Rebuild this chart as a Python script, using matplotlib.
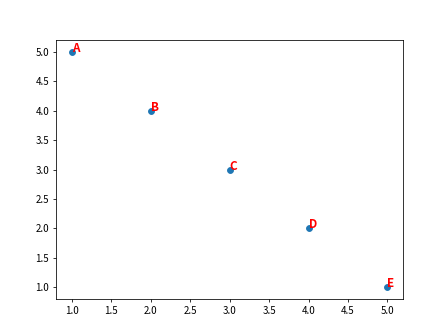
import matplotlib.pyplot as plt

plt.rcParams['font.family'] = ['Noto Sans CJK SC', 'DejaVu Sans']

x = [1, 2, 3, 4, 5]
y = [5, 4, 3, 2, 1]
labels = ['A', 'B', 'C', 'D', 'E']

fig, ax = plt.subplots(figsize=(6.4, 4.8), dpi=70)
ax.scatter(x, y)
for xi, yi, lab in zip(x, y, labels):
    ax.text(xi, yi, lab, color='red', fontsize=12, fontweight='bold')

plt.savefig('out.png')
